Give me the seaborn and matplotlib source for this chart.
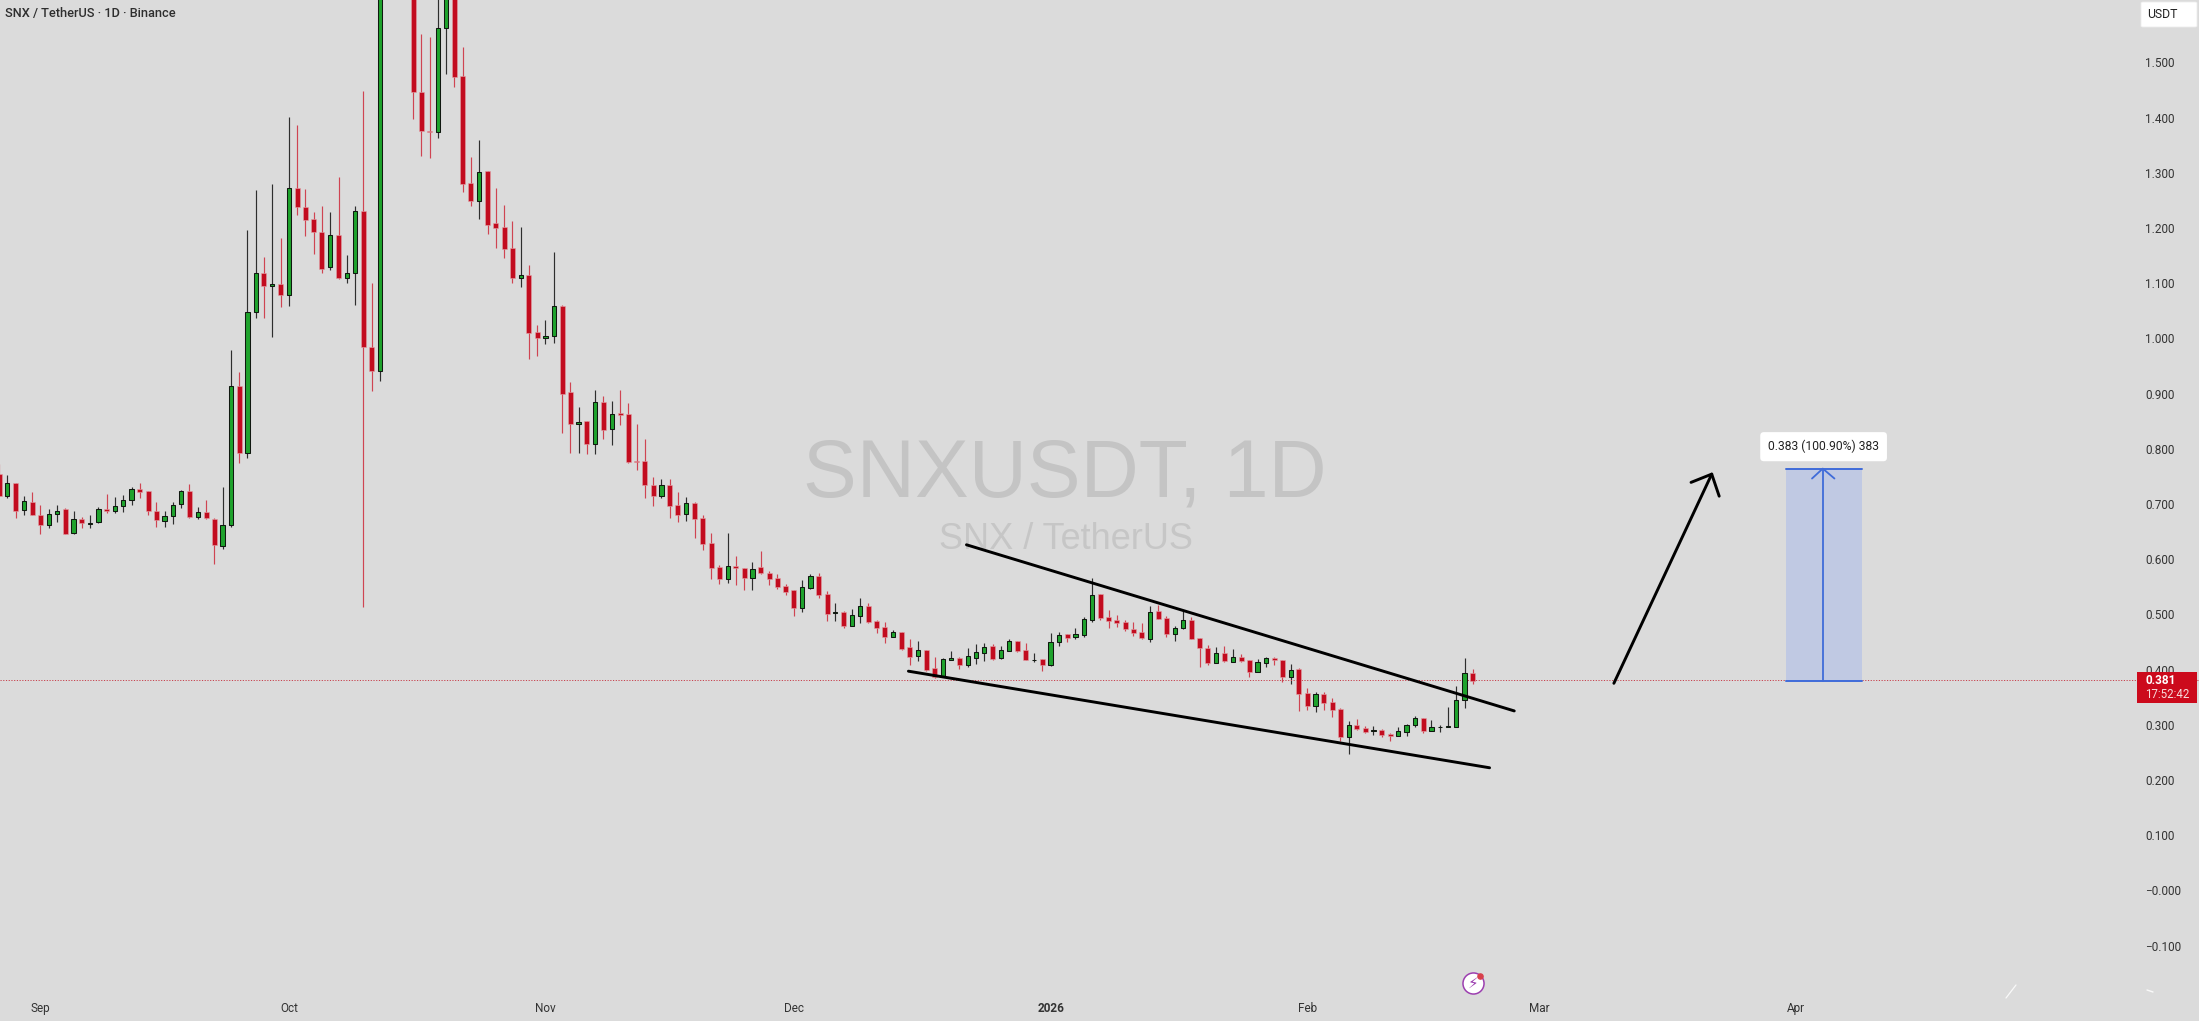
import numpy as np
import pandas as pd
import matplotlib
matplotlib.use("Agg")
import matplotlib.pyplot as plt
from matplotlib.patches import FancyBboxPatch, Rectangle
import seaborn as sns

# candle values. first candle sits one day before index 0
sides = ("R" "GRGRRGGRGR" "GGRGGGRRRG" "GGRGRRGGRG" "GRGRGRRRRG" "RGGRRGGRRR"
         "RRGGRRRGRR" "RRGRRGGRRG" "RGRGRRRRRG" "RRGRRRRGRR" "GRRRRRGGRR"
         "GRGGRRRGRR" "GRRGGRGGGR" "GGRRGRGGRG" "GGRRRRRRGR" "RGGRRRGRGR"
         "RGGRRGRRGR" "RRGRRGRRGG" "GRGGGGGR")

highs = [.772,
         .752, .738, .714, .721, .698, .691, .698, .692, .688, .677,
         .680, .694, .718, .712, .716, .731, .738, .724, .703, .688,
         .703, .725, .736, .694, .707, .675, .731, .979, .939, 1.196,
         1.268, 1.147, 1.280, 1.182, 1.401, 1.386, 1.271, 1.228, 1.239, 1.229,
         1.293, 1.151, 1.240, 1.448, 1.101, 1.95, 2.05, 2.02, 1.90, 1.80,
         1.551, 1.546, 1.75, 1.72, 1.70, 1.528, 1.328, 1.359, 1.303, 1.272,
         1.241, 1.212, 1.201, 1.132, 1.025, 1.033, 1.157, 1.060, .920, .875,
         .851, .907, .895, .886, .907, .882, .845, .818, .749, .745,
         .745, .722, .712, .703, .680, .648, .589, .647, .606, .584,
         .595, .615, .578, .573, .555, .544, .562, .573, .575, .542,
         .520, .506, .510, .529, .520, .490, .486, .471, .468, .455,
         .452, .436, .423, .420, .433, .423, .439, .446, .448, .446,
         .443, .455, .452, .448, .430, .419, .466, .468, .464, .475,
         .495, .566, .537, .508, .499, .490, .486, .484, .515, .517,
         .497, .479, .508, .496, .457, .444, .441, .443, .437, .429,
         .418, .419, .422, .422, .418, .410, .402, .367, .359, .359,
         .348, .331, .307, .310, .298, .298, .292, .285, .296, .302,
         .316, .312, .309, .300, .332, .370, .421, .401]

tops = [.754,
        .738, .738, .705, .704, .680, .682, .687, .691, .673, .673,
        .666, .690, .691, .696, .707, .727, .727, .723, .688, .678,
        .698, .723, .723, .685, .686, .673, .662, .913, .913, 1.047,
        1.119, 1.119, 1.099, 1.099, 1.272, 1.272, 1.237, 1.217, 1.192, 1.187,
        1.188, 1.119, 1.230, 1.230, .984, 1.90, 1.98, 1.98, 1.85, 1.72,
        1.447, 1.376, 1.563, 1.68, 1.68, 1.475, 1.281, 1.301, 1.303, 1.209,
        1.202, 1.164, 1.114, 1.114, 1.011, 1.005, 1.058, 1.058, .902, .849,
        .851, .884, .884, .863, .864, .863, .778, .778, .735, .734,
        .734, .698, .701, .702, .674, .629, .586, .587, .587, .584,
        .583, .586, .575, .566, .551, .544, .549, .569, .569, .537,
        .504, .504, .499, .515, .515, .488, .477, .468, .468, .441,
        .435, .436, .403, .419, .420, .421, .424, .432, .441, .443,
        .435, .451, .451, .435, .418, .419, .450, .462, .464, .464,
        .491, .535, .537, .495, .490, .486, .473, .468, .505, .506,
        .493, .475, .490, .490, .457, .439, .430, .430, .422, .423,
        .417, .413, .420, .421, .418, .400, .401, .357, .356, .356,
        .341, .328, .300, .300, .294, .290, .290, .284, .288, .299,
        .312, .312, .295, .296, .298, .345, .394, .394]

bottoms = [.715,
           .715, .688, .689, .680, .661, .661, .681, .646, .647, .665,
           .664, .667, .688, .688, .696, .707, .722, .688, .670, .669,
           .678, .700, .677, .677, .674, .625, .623, .661, .793, .792,
           1.047, 1.094, 1.095, 1.079, 1.079, 1.237, 1.215, 1.192, 1.126, 1.129,
           1.110, 1.110, 1.119, .985, .940, .940, 1.90, 1.85, 1.72, 1.447,
           1.376, 1.373, 1.373, 1.562, 1.473, 1.280, 1.249, 1.249, 1.205, 1.200,
           1.162, 1.110, 1.110, 1.010, 1.000, 1.001, 1.005, .900, .845, .845,
           .809, .809, .834, .835, .861, .776, .776, .734, .714, .715,
           .697, .680, .681, .673, .627, .584, .564, .564, .584, .566,
           .566, .575, .564, .549, .540, .511, .511, .548, .535, .500,
           .503, .479, .479, .497, .486, .475, .459, .459, .437, .423,
           .424, .399, .386, .388, .418, .408, .408, .421, .430, .419,
           .420, .434, .434, .417, .417, .408, .408, .449, .457, .459,
           .462, .490, .493, .488, .484, .473, .466, .457, .456, .491,
           .464, .465, .475, .455, .439, .412, .412, .415, .414, .415,
           .396, .396, .412, .417, .386, .387, .356, .334, .334, .339,
           .327, .278, .278, .292, .287, .288, .281, .280, .280, .287,
           .300, .289, .289, .295, .296, .296, .344, .379]

lows = [.715,
        .711, .674, .680, .680, .645, .657, .668, .645, .646, .656,
        .657, .666, .684, .684, .686, .698, .710, .680, .659, .659,
        .663, .693, .675, .672, .673, .592, .618, .659, .775, .784,
        1.036, 1.036, 1.003, 1.056, 1.059, 1.224, 1.185, 1.152, 1.119, 1.124,
        1.108, 1.101, 1.061, .513, .904, .923, 1.85, 1.80, 1.68, 1.397,
        1.331, 1.327, 1.362, 1.479, 1.455, 1.265, 1.240, 1.217, 1.189, 1.164,
        1.145, 1.100, 1.093, .962, .968, .990, .991, .828, .793, .793,
        .791, .791, .818, .807, .843, .775, .761, .711, .696, .711,
        .674, .667, .669, .638, .616, .564, .555, .557, .553, .544,
        .544, .573, .553, .546, .535, .497, .504, .546, .529, .488,
        .488, .475, .478, .484, .485, .466, .448, .459, .436, .408,
        .415, .398, .384, .388, .417, .401, .404, .410, .415, .418,
        .419, .434, .432, .417, .414, .397, .407, .443, .450, .455,
        .459, .486, .490, .475, .477, .470, .461, .456, .450, .491,
        .459, .452, .473, .455, .405, .408, .412, .414, .414, .414,
        .386, .396, .405, .408, .377, .374, .325, .327, .323, .327,
        .314, .270, .247, .290, .285, .281, .278, .271, .279, .280,
        .296, .285, .289, .287, .295, .295, .330, .374]

price_ticks = [1.5, 1.4, 1.3, 1.2, 1.1, 1.0, .9, .8, .7, .6, .5, .4, .3, .2, .1, 0.0, -.1]
price_labels = ["1.500", "1.400", "1.300", "1.200", "1.100", "1.000", "0.900", "0.800",
                "0.700", "0.600", "0.500", "0.400", "0.300", "0.200", "0.100",
                "\u22120.000", "\u22120.100"]
month_days = [4, 34, 65, 95, 126, 157, 185, 216]
month_labels = ["Sep", "Oct", "Nov", "Dec", "2026", "Feb", "Mar", "Apr"]

last_price = .381
upper_x, upper_y = [115.84, 182.0], [.626, .325]
lower_x, lower_y = [108.83, 179.02], [.397, .222]
arrow_x, arrow_y = [194.03, 205.85], [.375, .754]
head_x, head_y = [203.35, 205.85, 206.75], [.739, .754, .714]
range_x = [214.76, 223.97]
range_lo, range_hi = .380, .764
range_mid = 219.26
range_head_x, range_head_y = [217.96, 219.26, 220.67], [.746, .764, .746]

BG = "#dbdbdb"
GREEN = "#1fa32d"
RED = "#c20c1f"
BLUE = "#3f6bd9"

sns.set_theme(style="white", rc={"axes.facecolor": BG, "figure.facecolor": BG})
plt.rcParams["font.family"] = ["Roboto", "DejaVu Sans"]

candles = pd.DataFrame({"day": np.arange(-1, 178), "side": list(sides), "high": highs,
                        "low": lows, "top": tops, "bottom": bottoms})
candles["height"] = candles["top"] - candles["bottom"]
up = candles[candles["side"] == "G"]
down = candles[candles["side"] == "R"]

fig, ax = plt.subplots(figsize=(21.99, 10.21), dpi=100)
fig.subplots_adjust(0, 0, 1, 1)


def frac(px, py):
    return px / 2199, 1 - py / 1021


# watermark
ax.text(*frac(1065, 467), "SNXUSDT, 1D", transform=ax.transAxes, fontsize=58, family="Liberation Sans",
        color="#c4c4c4", ha="center", va="center_baseline", zorder=1)
ax.text(*frac(1066, 535), "SNX / TetherUS", transform=ax.transAxes, fontsize=26, family="Liberation Sans",
        color="#c6c6c6", ha="center", va="center_baseline", zorder=1)

ax.vlines(up["day"], up["low"], up["high"], color="#2e2e2e", lw=.85, zorder=2)
ax.vlines(down["day"], down["low"], down["high"], color="#cf4452", lw=.85, zorder=2)

sns.barplot(data=down, x="day", y="height", bottom=down["bottom"].values, native_scale=True, width=.6,
            color=RED, saturation=1, errorbar=None, edgecolor="#e3a0a6", linewidth=.4, zorder=3, ax=ax)
sns.barplot(data=up, x="day", y="height", bottom=up["bottom"].values, native_scale=True, width=.52,
            color=GREEN, saturation=1, errorbar=None, edgecolor="#101810", linewidth=.75, zorder=3, ax=ax)

ax.axhline(last_price, color="#c8404c", lw=.7, ls=(0, (1.2, 1.6)), zorder=2)

sns.lineplot(x=upper_x, y=upper_y, color="black", lw=2.1, zorder=4, ax=ax)
sns.lineplot(x=lower_x, y=lower_y, color="black", lw=2.1, zorder=4, ax=ax)
sns.lineplot(x=arrow_x, y=arrow_y, color="black", lw=2.1, zorder=4, ax=ax)
ax.plot(head_x, head_y, color="black", lw=2.1, zorder=4)

# measure tool
ax.fill_between(range_x, range_lo, range_hi, color="#c0c9e3", lw=0, zorder=3)
ax.plot(range_x, [range_hi, range_hi], color=BLUE, lw=1.4, zorder=4)
ax.plot(range_x, [range_lo, range_lo], color=BLUE, lw=1.4, zorder=4)
ax.plot([range_mid, range_mid], [range_lo, range_hi], color=BLUE, lw=1.3, zorder=4)
ax.plot(range_head_x, range_head_y, color=BLUE, lw=1.3, zorder=4)
ax.text(range_mid + .1, .8037, "0.383 (100.90%) 383", fontsize=8.7, color="#222222", ha="center", va="center",
        zorder=6, bbox=dict(boxstyle="round,pad=0.65,rounding_size=0.3", fc="white", ec="none"))

ax.set_xlim(-7.3 / 8.28, (2199 - 7.3) / 8.28)
ax.set_ylim(1.6129 - 1021 / 552, 1.6129)
ax.set_xlabel("")
ax.set_ylabel("")
ax.set_axisbelow(True)
sns.despine(ax=ax, left=True, bottom=True)

ax.yaxis.tick_right()
ax.set_yticks(price_ticks, price_labels)
ax.tick_params(axis="y", length=0, pad=-38.9, labelsize=8.5, labelcolor="#333333")
for label in ax.get_yticklabels():
    label.set_va("center_baseline")
ax.set_xticks(month_days, month_labels)
ax.tick_params(axis="x", length=0, pad=-13.7, labelsize=8.5, labelcolor="#333333")
ax.get_xticklabels()[4].set_fontweight("bold")

# header, price tag and small widgets
ax.text(*frac(5, 13.5), "SNX / TetherUS \u00b7 1D \u00b7 Binance", transform=ax.transAxes, fontsize=9.2,
        fontweight="medium", color="#2e2e2e", ha="left", va="center", zorder=7)
ax.add_patch(FancyBboxPatch(frac(2141, 27), 56 / 2199, 25 / 1021, transform=ax.transAxes, fc="white", ec="#eeeeee",
                            lw=.6, boxstyle="round,pad=0,rounding_size=0.001", zorder=6))
ax.text(*frac(2162, 15), "USDT", transform=ax.transAxes, fontsize=8.8, color="#222222", ha="center", va="center", zorder=7)

ax.add_patch(Rectangle(frac(2137, 702.7), 59.6 / 2199, 30.4 / 1021, transform=ax.transAxes, fc="#cc0a1c", ec="none", zorder=6))
ax.text(*frac(2145, 680), "0.381", transform=ax.transAxes, fontsize=8.5, fontweight="bold", color="white",
        ha="left", va="center", zorder=7)
ax.text(*frac(2145, 694.7), "17:52:42", transform=ax.transAxes, fontsize=8.3, color="#f7dcdc",
        ha="left", va="center", zorder=7)

ax.scatter(*frac(1473, 983), s=230, fc="white", ec="#9c3fb0", lw=1.1, transform=ax.transAxes, zorder=6)
ax.text(*frac(1473, 983), "\u26a1", transform=ax.transAxes, fontsize=11, family="DejaVu Sans", color="#9c3fb0",
        ha="center", va="center", zorder=7)
ax.scatter(*frac(1480, 976), s=14, c="#d8404c", transform=ax.transAxes, zorder=7)
ax.plot(*zip(frac(2006, 998), frac(2016, 985)), color="white", lw=.9, alpha=.85, transform=ax.transAxes, zorder=5)
ax.plot(*zip(frac(2147, 990), frac(2153, 992)), color="white", lw=1, alpha=.85, transform=ax.transAxes, zorder=5)

fig.savefig("out.png", dpi=100, facecolor=BG)
